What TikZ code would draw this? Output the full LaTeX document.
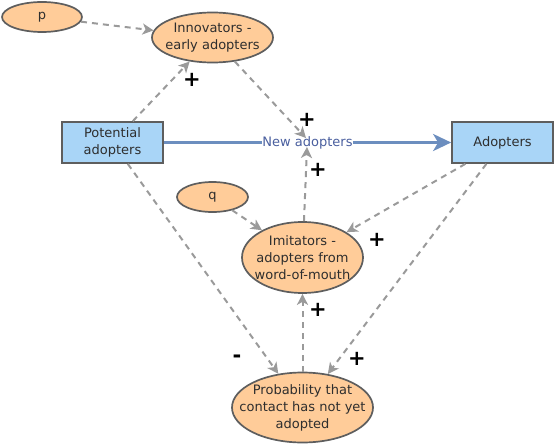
\documentclass[tikz,border=0pt]{standalone}
\usepackage{fontspec}
\setmainfont{DejaVu Sans}
\usetikzlibrary{shapes.geometric,arrows.meta}
\definecolor{peach}{HTML}{FFCC99}
\definecolor{skyb}{HTML}{A9D5F7}
\definecolor{edgegray}{HTML}{5E5E5E}
\definecolor{linkgray}{HTML}{9A9A9A}
\definecolor{flowblue}{HTML}{6C8EBF}
\definecolor{flowtext}{HTML}{4A5F9F}
\definecolor{textdark}{HTML}{2E2E2E}
\tikzset{
  txt/.style={font=\fontsize{13}{17}\selectfont, text=textdark, align=center},
  var/.style={ellipse, draw=edgegray, line width=1.7pt, fill=peach, inner sep=0pt},
  stock/.style={rectangle, draw=edgegray, line width=1.7pt, fill=skyb, minimum width=101pt, minimum height=41pt, inner sep=0pt, txt},
  link/.style={draw=linkgray, line width=2pt, dash pattern=on 6pt off 5pt, -{Stealth[length=11pt,width=11pt,inset=3pt,fill=linkgray]}},
  flowline/.style={draw=flowblue, line width=3.2pt, -{Stealth[length=18pt,width=17pt,inset=5pt,fill=flowblue]}},
  flowlbl/.style={fill=white, inner sep=0.5pt, font=\fontsize{13}{17}\selectfont, text=flowtext},
  pol/.style={font=\bfseries\fontsize{21}{21}\selectfont, text=black, inner sep=0pt}
}
\begin{document}
\begin{tikzpicture}[x=1pt,y=-1pt]
\useasboundingbox (0,0) rectangle (554,444);
\node[var, minimum width=80pt, minimum height=30pt, label={[txt]center:p}] (p) at (42,17) {};
\node[var, minimum width=121pt, minimum height=50pt, label={[txt]center:{Innovators -\\early adopters}}] (innov) at (212.5,37.5) {};
\node[stock] (pot) at (112.5,142.5) {Potential\\adopters};
\node[stock] (adopt) at (502.5,142.5) {Adopters};
\node[var, minimum width=71pt, minimum height=30pt, label={[txt]center:q}] (q) at (212.5,197) {};
\node[var, minimum width=121pt, minimum height=71pt, label={[txt]center:{Imitators -\\adopters from\\word-of-mouth}}] (imit) at (302.5,257.5) {};
\node[var, minimum width=141pt, minimum height=70pt, label={[txt]center:{Probability that\\contact has not yet\\adopted}}] (prob) at (302.5,407.5) {};
\draw[flowline] (pot.east) -- node[flowlbl] (nalbl) {New adopters} (adopt.west);
\coordinate (valveN) at (306,138);
\coordinate (valveS) at (307,147);
\draw[link] (p) -- (innov);
\draw[link] (pot) -- (innov);
\draw[link] (innov) -- (valveN);
\draw[link] (imit) -- (valveS);
\draw[link] (q) -- (imit);
\draw[link] (adopt) -- (imit);
\draw[link] (pot) -- (prob);
\draw[link] (adopt) -- (prob);
\draw[link] (prob) -- (imit);
\node[pol] (s1) at (192,80) {+};
\node[pol] (s2) at (307,120) {+};
\node[pol] (s3) at (318,170) {+};
\node[pol] (s4) at (377,240) {+};
\node[pol] (s5) at (318,310) {+};
\node[pol] (s6) at (357,359) {+};
\node[pol] (s7) at (237,359) {-};
\end{tikzpicture}
\end{document}
